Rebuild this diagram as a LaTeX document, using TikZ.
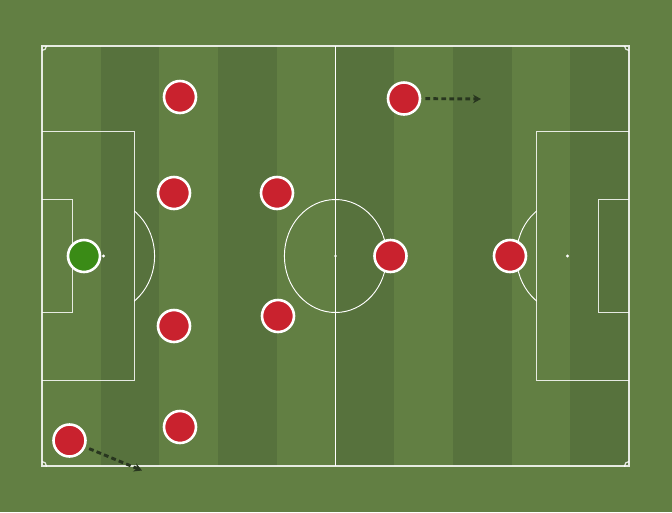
\documentclass[tikz,border=0pt]{standalone}
\usetikzlibrary{arrows.meta,shadows}
\definecolor{grasslight}{RGB}{98,127,67}
\definecolor{grassdark}{RGB}{87,114,61}
\definecolor{plred}{RGB}{201,34,46}
\definecolor{plgreen}{RGB}{58,139,22}
\definecolor{runcol}{RGB}{40,54,31}
\tikzset{
  pline/.style={draw=white, draw opacity=0.85, line width=0.9pt},
  thinline/.style={draw=white, line width=0.7pt},
  player/.style={circle, minimum size=24pt, inner sep=0pt, fill=plred, draw=white, line width=1.95pt,
     drop shadow={shadow xshift=0.6pt, shadow yshift=-0.9pt, opacity=0.3, fill=black}},
  keeper/.style={player, fill=plgreen},
  run/.style={draw=runcol, line width=2.2pt, dash pattern=on 3.6pt off 2.4pt, shorten <=3pt,
     -{Stealth[length=6pt,width=6.5pt]}},
  spot/.style={fill=white, circle, inner sep=0pt, minimum size=2.4pt}
}
\begin{document}
\begin{tikzpicture}[x=0.75pt,y=-0.75pt]
\useasboundingbox (0,0) rectangle (672,512);
\fill[grasslight] (0,0) rectangle (672,512);
% stripes
\foreach \i in {1,3,5,7,9} {
  \fill[grassdark] ({42+\i*58.7},46) rectangle ({42+(\i+1)*58.7},466);
}
% pitch outline
\draw[pline] (42,46) rectangle (629,466);
\draw[thinline] (335.5,46) -- (335.5,466);
\draw[thinline] (335.5,256) ellipse [x radius=51.1, y radius=56.5];
\node[spot, minimum size=2pt] (cs) at (335.5,256) {};
% left boxes
\draw[pline] (42,131.5) -- (134.2,131.5) -- (134.2,380.5) -- (42,380.5);
\draw[pline] (42,199.5) -- (72.7,199.5) -- (72.7,312.5) -- (42,312.5);
\node[spot] (ls) at (103.5,256) {};
\begin{scope}
  \clip (134.2,46) rectangle (629,466);
  \draw[thinline] (103.5,256) ellipse [x radius=51.1, y radius=56.5];
\end{scope}
% right boxes
\draw[pline] (629,131.5) -- (536.8,131.5) -- (536.8,380.5) -- (629,380.5);
\draw[pline] (629,199.5) -- (598.3,199.5) -- (598.3,312.5) -- (629,312.5);
\node[spot] (rs) at (567.5,256) {};
\begin{scope}
  \clip (42,46) rectangle (536.8,466);
  \draw[thinline] (567.5,256) ellipse [x radius=51.1, y radius=56.5];
\end{scope}
% corner arcs
\begin{scope}
  \clip (42,46) rectangle (629,466);
  \foreach \cx/\cy in {42/46, 629/46, 42/466, 629/466} {
    \draw[pline] (\cx,\cy) circle [radius=4.5];
  }
\end{scope}
% players
\node[player] (p1) at (180,97) {};
\node[player] (p2) at (174,193) {};
\node[player] (p3) at (277,193) {};
\node[keeper] (gk) at (84,256) {};
\node[player] (p5) at (390.5,256) {};
\node[player] (p6) at (510,256) {};
\node[player] (p7) at (174,326) {};
\node[player] (p8) at (278,316) {};
\node[player] (p9) at (180,427) {};
\node[player] (p10) at (69.5,440.5) {};
\node[player] (p11) at (404,98.5) {};
% runs
\coordinate (t1) at (481,99);
\coordinate (t2) at (142,470.5);
\draw[run] (p11) -- (t1);
\draw[run] (p10) -- (t2);
\end{tikzpicture}
\end{document}
